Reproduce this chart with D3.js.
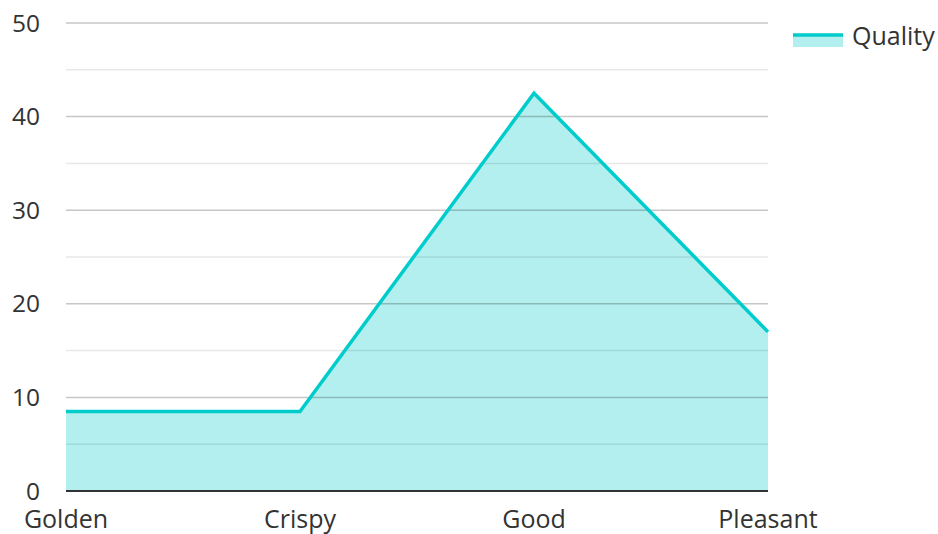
<!DOCTYPE html>
<html><head><meta charset="utf-8">
<script src="https://cdn.jsdelivr.net/npm/d3@7"></script>
<style>body{margin:0;background:#fff;font-family:"Open Sans",sans-serif;}</style>
</head><body><svg id="c" width="938" height="534"></svg>
<script>
const categories = ["Golden","Crispy","Good","Pleasant"];
const seriesName = "Quality";
const values = [8.5, 8.5, 42.5, 17];
const yTicks = [0,10,20,30,40,50];
const yMinor = [5,15,25,35,45];

const svg = d3.select("#c");
const L=66,R=768,T=23,B=491;
const x = d3.scalePoint().domain(categories).range([L,R]);
const y = d3.scaleLinear().domain([0,50]).range([B,T]);
const data = categories.map((c,i)=>({c,v:values[i]}));

svg.append("path").datum(data)
  .attr("d", d3.area().x(d=>x(d.c)).y0(y(0)).y1(d=>y(d.v)))
  .attr("fill","#b2efee");

const g = svg.append("g");
g.selectAll(".minor").data(yMinor).join("line")
  .attr("x1",L).attr("x2",R).attr("y1",d=>y(d)).attr("y2",d=>y(d))
  .attr("stroke","#000").attr("stroke-opacity",0.09).attr("stroke-width",1.5);
g.selectAll(".major").data(yTicks.filter(d=>d>0)).join("line")
  .attr("x1",L).attr("x2",R).attr("y1",d=>y(d)).attr("y2",d=>y(d))
  .attr("stroke","#000").attr("stroke-opacity",0.22).attr("stroke-width",1.5);

svg.append("path").datum(data)
  .attr("d", d3.line().x(d=>x(d.c)).y(d=>y(d.v)))
  .attr("fill","none").attr("stroke","#00cccc").attr("stroke-width",3.5);

svg.append("line").attr("x1",L).attr("x2",R).attr("y1",y(0)).attr("y2",y(0))
  .attr("stroke","#333").attr("stroke-width",2);

svg.selectAll(".yl").data(yTicks).join("text")
  .attr("x",40).attr("y",d=>y(d)).attr("dy","0.35em").attr("text-anchor","end")
  .attr("font-size",24.5).attr("fill","#333").text(d=>d);

svg.selectAll(".xl").data(categories).join("text")
  .attr("x",d=>x(d)).attr("y",528).attr("text-anchor","middle")
  .attr("font-size",25).attr("fill","#333").text(d=>d);

const lg = svg.append("g");
lg.append("rect").attr("x",793).attr("y",35).attr("width",50).attr("height",12).attr("fill","#b2efee");
lg.append("line").attr("x1",793).attr("x2",843).attr("y1",35).attr("y2",35).attr("stroke","#00cccc").attr("stroke-width",3.5);
lg.append("text").attr("x",852).attr("y",36).attr("dy","0.35em").attr("font-size",25).attr("fill","#333").text(seriesName);
</script></body></html>
